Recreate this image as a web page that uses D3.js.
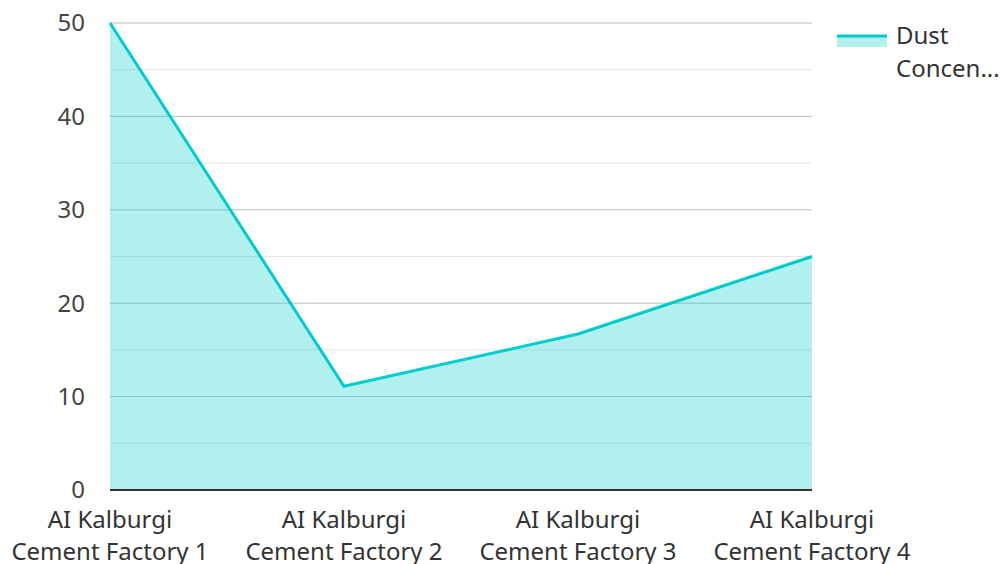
<!DOCTYPE html>
<html><head><meta charset="utf-8">
<script src="https://cdn.jsdelivr.net/npm/d3@7"></script>
<style>body{margin:0;background:#fff;}svg{display:block;font-family:"Noto Sans",sans-serif;}</style>
</head><body><svg id="c" width="1004" height="564"></svg>
<script>
const categories = ["AI Kalburgi Cement Factory 1","AI Kalburgi Cement Factory 2","AI Kalburgi Cement Factory 3","AI Kalburgi Cement Factory 4"];
const categoryLines = [["AI Kalburgi","Cement Factory 1"],["AI Kalburgi","Cement Factory 2"],["AI Kalburgi","Cement Factory 3"],["AI Kalburgi","Cement Factory 4"]];
const values = [50, 11.1, 16.7, 25];
const yTicks = [0,10,20,30,40,50];
const minorTicks = [5,15,25,35,45];
const seriesName = ["Dust", "Concen..."];

const svg = d3.select("#c");
const x = d3.scalePoint().domain(categories).range([110, 812]).padding(0);
const y = d3.scaleLinear().domain([0, 50]).range([490, 23]);

svg.append("g").selectAll("line").data(minorTicks).join("line")
  .attr("x1",110).attr("x2",812).attr("y1",d=>y(d)).attr("y2",d=>y(d))
  .attr("stroke","#e6e6e6").attr("stroke-width",1);
svg.append("g").selectAll("line").data(yTicks.filter(d=>d>0)).join("line")
  .attr("x1",110).attr("x2",812).attr("y1",d=>y(d)).attr("y2",d=>y(d))
  .attr("stroke","#bdbdbd").attr("stroke-width",1);

const pts = categories.map((c,i)=>[x(c), values[i]]);
const area = d3.area().x(d=>d[0]).y0(y(0)).y1(d=>y(d[1]));
svg.append("path").datum(pts).attr("d",area).attr("fill","#00cccc").attr("fill-opacity",0.3);
svg.append("line").attr("x1",110).attr("x2",812).attr("y1",y(0)).attr("y2",y(0)).attr("stroke","#333").attr("stroke-width",2);
const line = d3.line().x(d=>d[0]).y(d=>y(d[1]));
svg.append("path").datum(pts).attr("d",line).attr("fill","none").attr("stroke","#00cccc").attr("stroke-width",3).attr("stroke-linejoin","round");

svg.append("g").selectAll("text").data(yTicks).join("text")
  .attr("x",85).attr("y",d=>y(d)).attr("dy","0.35em").attr("text-anchor","end")
  .attr("font-size",24).attr("fill","#444").text(d=>d);

const xl = svg.append("g").selectAll("text").data(categories).join("text")
  .attr("text-anchor","middle").attr("font-size",24).attr("fill","#333");
xl.each(function(d,i){
  const t=d3.select(this);
  categoryLines[i].forEach((s,j)=>t.append("tspan").attr("x",x(d)).attr("y",528+j*32).text(s));
});

svg.append("rect").attr("x",837).attr("y",35).attr("width",50).attr("height",12).attr("fill","#00cccc").attr("fill-opacity",0.3);
svg.append("line").attr("x1",837).attr("x2",887).attr("y1",36).attr("y2",36).attr("stroke","#00cccc").attr("stroke-width",3);
svg.append("g").selectAll("text").data(seriesName).join("text")
  .attr("x",896).attr("y",(d,i)=>44+i*33).attr("font-size",24).attr("fill","#333").text(d=>d);
</script></body></html>
